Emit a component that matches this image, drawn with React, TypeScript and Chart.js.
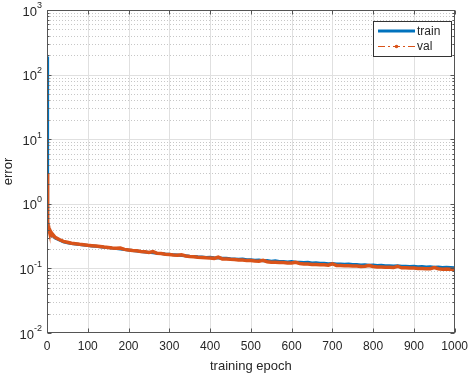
import React, { useEffect, useRef } from "react";
import { Chart, registerables } from "chart.js";
Chart.register(...registerables);

const epochs = [
  0, 1, 2, 3, 4, 5, 6, 7, 8, 9,
  10, 20, 30, 40, 50, 60, 70, 80, 90, 100,
  110, 120, 130, 140, 150, 160, 170, 180, 190, 200,
  210, 220, 230, 240, 250, 260, 270, 280, 290, 300,
  310, 320, 330, 340, 350, 360, 370, 380, 390, 400,
  410, 420, 430, 440, 450, 460, 470, 480, 490, 500,
  510, 520, 530, 540, 550, 560, 570, 580, 590, 600,
  610, 620, 630, 640, 650, 660, 670, 680, 690, 700,
  710, 720, 730, 740, 750, 760, 770, 780, 790, 800,
  810, 820, 830, 840, 850, 860, 870, 880, 890, 900,
  910, 920, 930, 940, 950, 960, 970, 980, 990, 1000,
];

const trainError = [
  190, 0.9, 0.5, 0.44, 0.42, 0.4, 0.39, 0.38, 0.37, 0.36,
  0.35, 0.296, 0.276, 0.259, 0.25, 0.243, 0.238, 0.234, 0.23, 0.226,
  0.223, 0.22, 0.217, 0.213, 0.21, 0.206, 0.203, 0.199, 0.196, 0.192,
  0.189, 0.186, 0.183, 0.18, 0.177, 0.175, 0.172, 0.17, 0.167, 0.165,
  0.162, 0.161, 0.158, 0.157, 0.154, 0.153, 0.151, 0.15, 0.148, 0.149,
  0.146, 0.145, 0.143, 0.144, 0.141, 0.14, 0.138, 0.14, 0.136, 0.136,
  0.134, 0.135, 0.131, 0.132, 0.129, 0.131, 0.128, 0.128, 0.126, 0.128,
  0.125, 0.124, 0.123, 0.124, 0.121, 0.122, 0.12, 0.12, 0.118, 0.119,
  0.117, 0.117, 0.116, 0.117, 0.115, 0.115, 0.113, 0.114, 0.112, 0.113,
  0.111, 0.112, 0.11, 0.11, 0.109, 0.11, 0.108, 0.108, 0.107, 0.108,
  0.106, 0.107, 0.105, 0.106, 0.104, 0.105, 0.103, 0.104, 0.103, 0.102,
];

const valError = [
  3.0, 0.75, 0.52, 0.46, 0.43, 0.41, 0.4, 0.39, 0.38, 0.37,
  0.36, 0.302, 0.28, 0.262, 0.254, 0.245, 0.241, 0.236, 0.233, 0.228,
  0.225, 0.222, 0.219, 0.214, 0.211, 0.207, 0.205, 0.207, 0.197, 0.193,
  0.189, 0.187, 0.183, 0.181, 0.177, 0.182, 0.171, 0.17, 0.166, 0.164,
  0.161, 0.16, 0.163, 0.156, 0.153, 0.152, 0.149, 0.148, 0.146, 0.145,
  0.143, 0.149, 0.14, 0.14, 0.138, 0.137, 0.135, 0.135, 0.132, 0.132,
  0.13, 0.129, 0.133, 0.127, 0.125, 0.125, 0.123, 0.123, 0.121, 0.121,
  0.124, 0.119, 0.117, 0.117, 0.115, 0.115, 0.114, 0.114, 0.112, 0.118,
  0.111, 0.111, 0.11, 0.11, 0.109, 0.109, 0.107, 0.108, 0.111, 0.107,
  0.105, 0.105, 0.104, 0.104, 0.103, 0.108, 0.102, 0.102, 0.101, 0.101,
  0.1, 0.1, 0.099, 0.099, 0.103, 0.099, 0.097, 0.098, 0.097, 0.096,
];

const xTickValues = [0, 100, 200, 300, 400, 500, 600, 700, 800, 900, 1000];
const yDecadeExponents = [-2, -1, 0, 1, 2, 3];
const seriesNames = ["train", "val"];

const FONT = 'Arial, "Liberation Sans", Helvetica, sans-serif';
const BLUE = "#0072BD";
const ORANGE = "#D95319";
const TEXT = "#262626";
const AXIS = "#555555";

export default function App() {
  const ref = useRef<HTMLCanvasElement>(null);

  useEffect(() => {
    document.body.style.margin = "0";
    const canvas = ref.current;
    if (!canvas) return;

    const matlabPlugin = {
      id: "matlabAxes",
      beforeDatasetsDraw(chart: any) {
        const { ctx, chartArea, scales } = chart;
        const { left, right, top, bottom } = chartArea;
        const xs = scales.x;
        const ys = scales.y;
        ctx.save();
        ctx.lineWidth = 1;
        // minor y grid (dotted)
        ctx.strokeStyle = "rgba(0,0,0,0.22)";
        ctx.setLineDash([1, 2]);
        for (let k = -2; k <= 2; k++) {
          for (let m = 2; m <= 9; m++) {
            const py = Math.round(ys.getPixelForValue(m * Math.pow(10, k))) + 0.5;
            ctx.beginPath();
            ctx.moveTo(left, py);
            ctx.lineTo(right, py);
            ctx.stroke();
          }
        }
        // major grid
        ctx.setLineDash([]);
        ctx.strokeStyle = "#e0e0e0";
        for (const e of yDecadeExponents) {
          const py = Math.round(ys.getPixelForValue(Math.pow(10, e))) + 0.5;
          if (py <= top + 1 || py >= bottom - 1) continue;
          ctx.beginPath();
          ctx.moveTo(left, py);
          ctx.lineTo(right, py);
          ctx.stroke();
        }
        for (const v of xTickValues) {
          const px = Math.round(xs.getPixelForValue(v)) + 0.5;
          if (px <= left + 1 || px >= right - 1) continue;
          ctx.beginPath();
          ctx.moveTo(px, top);
          ctx.lineTo(px, bottom);
          ctx.stroke();
        }
        ctx.restore();
      },
      afterDatasetsDraw(chart: any) {
        const { ctx, chartArea, scales } = chart;
        const { left, right, top, bottom } = chartArea;
        const xs = scales.x;
        const ys = scales.y;
        ctx.save();
        ctx.strokeStyle = AXIS;
        ctx.lineWidth = 1;
        ctx.setLineDash([]);
        const L = Math.round(left) + 0.5;
        const R = Math.round(right) - 0.5;
        const T = Math.round(top) + 0.5;
        const B = Math.round(bottom) - 0.5;
        ctx.strokeRect(L, T, R - L, B - T);
        // ticks
        ctx.beginPath();
        for (const v of xTickValues) {
          const px = Math.round(xs.getPixelForValue(v)) + 0.5;
          ctx.moveTo(px, B);
          ctx.lineTo(px, B - 4);
          ctx.moveTo(px, T);
          ctx.lineTo(px, T + 4);
        }
        for (const e of yDecadeExponents) {
          const py = Math.round(ys.getPixelForValue(Math.pow(10, e))) + 0.5;
          ctx.moveTo(L, py);
          ctx.lineTo(L + 4, py);
          ctx.moveTo(R, py);
          ctx.lineTo(R - 4, py);
        }
        for (let k = -2; k <= 2; k++) {
          for (let m = 2; m <= 9; m++) {
            const py = Math.round(ys.getPixelForValue(m * Math.pow(10, k))) + 0.5;
            ctx.moveTo(L, py);
            ctx.lineTo(L + 2, py);
            ctx.moveTo(R, py);
            ctx.lineTo(R - 2, py);
          }
        }
        ctx.stroke();

        // y tick labels with superscript exponents
        ctx.fillStyle = TEXT;
        ctx.textAlign = "right";
        ctx.textBaseline = "middle";
        const labelRight = left - 5;
        for (const e of yDecadeExponents) {
          const py = ys.getPixelForValue(Math.pow(10, e));
          const exp = e < 0 ? "-" + String(-e) : String(e);
          ctx.font = `9px ${FONT}`;
          const ew = ctx.measureText(exp).width;
          ctx.fillText(exp, labelRight, py - 4);
          ctx.font = `13px ${FONT}`;
          ctx.fillText("10", labelRight - ew, py + 2);
        }

        // legend
        const bx = 373.5, by = 21.5, bw = 78, bh = 35;
        ctx.fillStyle = "#ffffff";
        ctx.fillRect(bx, by, bw, bh);
        ctx.strokeStyle = "#333333";
        ctx.strokeRect(bx, by, bw, bh);
        const y1 = 31, y2 = 46;
        ctx.strokeStyle = BLUE;
        ctx.lineWidth = 3;
        ctx.beginPath();
        ctx.moveTo(378, y1);
        ctx.lineTo(415, y1);
        ctx.stroke();
        ctx.strokeStyle = ORANGE;
        ctx.lineWidth = 1;
        ctx.setLineDash([7, 3, 2, 3]);
        ctx.beginPath();
        ctx.moveTo(378, y2 + 0.5);
        ctx.lineTo(415, y2 + 0.5);
        ctx.stroke();
        ctx.setLineDash([]);
        ctx.fillStyle = ORANGE;
        ctx.beginPath();
        ctx.arc(396.5, y2 + 0.5, 1.8, 0, Math.PI * 2);
        ctx.fill();
        ctx.fillStyle = TEXT;
        ctx.font = `12px ${FONT}`;
        ctx.textAlign = "left";
        ctx.textBaseline = "middle";
        ctx.fillText(seriesNames[0], 417, y1 + 0.5);
        ctx.fillText(seriesNames[1], 417, y2 + 0.5);
        ctx.restore();
      },
    };

    const chart = new Chart(canvas, {
      type: "line",
      data: {
        datasets: [
          {
            label: seriesNames[1],
            data: epochs.map((e, i) => ({ x: e, y: valError[i] })),
            borderColor: ORANGE,
            backgroundColor: ORANGE,
            borderWidth: 3.5,
            pointRadius: 0,
            tension: 0,
            order: 0,
          },
          {
            label: seriesNames[0],
            data: epochs.map((e, i) => ({ x: e, y: trainError[i] })),
            borderColor: BLUE,
            backgroundColor: BLUE,
            borderWidth: 3,
            pointRadius: 0,
            tension: 0,
            order: 1,
          },
        ],
      },
      options: {
        animation: false,
        responsive: true,
        maintainAspectRatio: false,
        layout: { padding: { top: 10, right: 17, left: 0, bottom: 0 } },
        plugins: {
          legend: { display: false },
          tooltip: { enabled: false },
        },
        scales: {
          x: {
            type: "linear",
            min: 0,
            max: 1000,
            afterBuildTicks: (s: any) => {
              s.ticks = xTickValues.map((v) => ({ value: v }));
            },
            afterFit: (s: any) => {
              s.height = 42;
            },
            ticks: {
              font: { family: FONT, size: 12 },
              color: TEXT,
              padding: 6,
              maxRotation: 0,
              autoSkip: false,
              callback: (v: any) => String(v),
            },
            grid: { display: false, drawTicks: false },
            border: { display: false },
            title: {
              display: true,
              text: "training epoch",
              font: { family: FONT, size: 13 },
              color: TEXT,
              padding: { top: 0, bottom: 1 },
            },
          },
          y: {
            type: "logarithmic",
            min: 0.01,
            max: 1000,
            afterFit: (s: any) => {
              s.width = 47;
            },
            ticks: { display: false },
            grid: { display: false, drawTicks: false },
            border: { display: false },
            title: {
              display: true,
              text: "error",
              font: { family: FONT, size: 13 },
              color: TEXT,
              padding: { top: 1, bottom: 0 },
            },
          },
        },
      },
      plugins: [matlabPlugin],
    });

    return () => chart.destroy();
  }, []);

  return (
    <div style={{ width: 474, height: 375, position: "relative", background: "#ffffff" }}>
      <canvas ref={ref} />
    </div>
  );
}
